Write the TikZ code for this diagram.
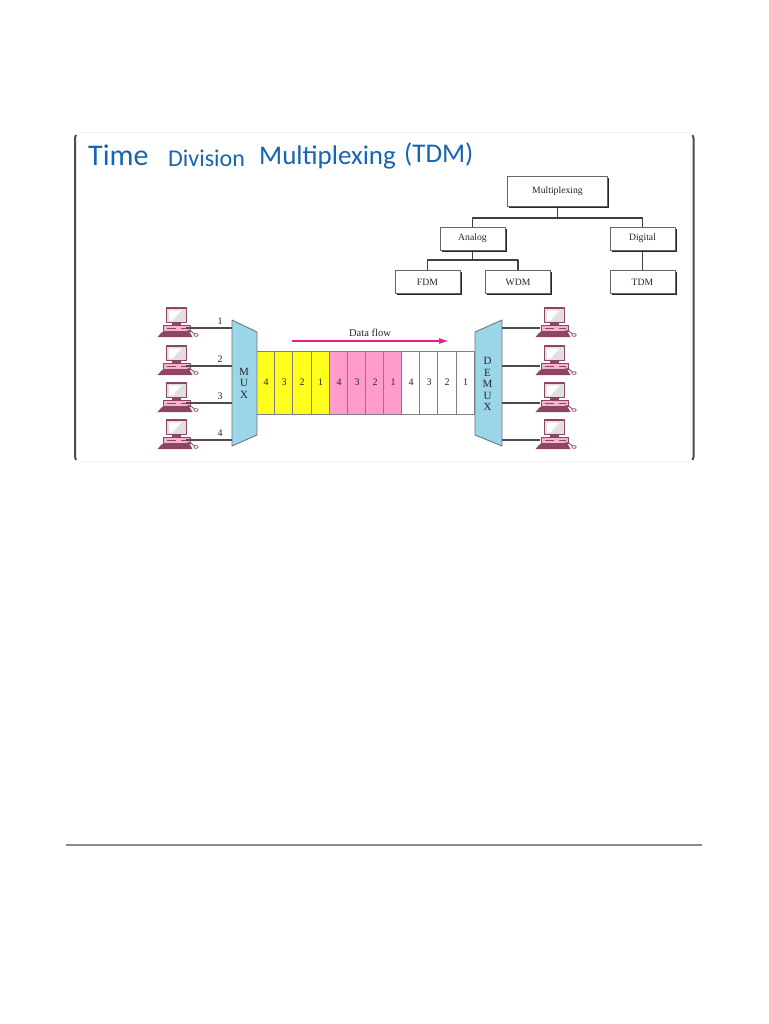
\documentclass[tikz,border=0pt]{standalone}
\usepackage{fontspec}
\setmainfont{Liberation Serif}
\newfontfamily\handfont{Carlito}
\usetikzlibrary{shadows,arrows.meta}
\definecolor{inkblue}{HTML}{1764B0}
\definecolor{muxblue}{HTML}{9AD6E8}
\definecolor{slotyellow}{HTML}{FFFF1E}
\definecolor{slotpink}{HTML}{FF9CCB}
\definecolor{pcmaroon}{HTML}{8E4464}
\definecolor{pcpink}{HTML}{F4B4D0}
\definecolor{flowpink}{HTML}{E0218A}
\tikzset{
  every path/.style={line join=round},
  treebox/.style={draw=black!60, fill=white, line width=0.9pt, minimum height=23pt, minimum width=65pt, inner sep=0pt,
    font=\fontsize{9.7}{11}\selectfont, text=black!85,
    drop shadow={shadow xshift=1.6pt, shadow yshift=-1.6pt, fill=black!85, opacity=1}},
  treeline/.style={draw=black!75, line width=1.2pt},
  muxshape/.style={draw=black!55, fill=muxblue, line width=0.9pt},
  slot/.style={draw=black!50, line width=1pt, minimum height=63pt, inner sep=0pt, font=\fontsize{10}{11}\selectfont, text=black!85},
  wire/.style={draw=black!70, line width=1.3pt},
  lbl/.style={font=\fontsize{10}{11}\selectfont, text=black!85, inner sep=0pt},
  title/.style={text=inkblue, inner sep=0pt, anchor=base west},
  computer/.pic={
    \filldraw[draw=pcmaroon, fill=black!12, line width=1.2pt] (-10,-20) rectangle (10,-5.5);
    \fill[white] (-7.5,-17.5) -- (5,-17.5) -- (-4,-7.5) -- (-7.5,-7.5) -- cycle;
    \fill[pcmaroon] (-4.5,-5) rectangle (4.5,-3);
    \filldraw[draw=pcmaroon, fill=pcpink, line width=1pt] (-13.5,-3) rectangle (13.5,3.5);
    \draw[pcmaroon, line width=1pt] (-10,0) -- (-1,0) (4,0) -- (11,0);
    \fill[pcmaroon] (-19,9) -- (16,9) -- (13,4) -- (-14.5,4) -- cycle;
    \draw[pcmaroon, line width=0.8pt] (11,2) .. controls (14,3) and (16,4) .. (18,6);
    \filldraw[draw=pcmaroon, fill=white, line width=0.7pt] (19.5,7) ellipse (2.2 and 1.4);
    \coordinate (-port) at (0,0);
  }
}
\begin{document}
\begin{tikzpicture}[x=1pt,y=-1pt]
  \useasboundingbox (0,0) rectangle (768,1024);
  % card round the slide
  \draw[black!6, line width=1pt] (80,132.5) -- (689,132.5);
  \draw[black!6, line width=1pt] (80,461) -- (689,461);
  \draw[black!70, line width=2pt] (76,135) -- (75,138) -- (75,457) -- (76,460);
  \draw[black!70, line width=2pt] (692.5,135) -- (693.5,138) -- (693.5,457) -- (692.5,460);
  % title
  \node[title, font=\handfont\fontsize{30}{32}\selectfont] (wtime) at (88,166) {Time};
  \node[title, font=\handfont\fontsize{24}{26}\selectfont] (wdiv) at (168,167) {Division};
  \node[title, font=\handfont\fontsize{27}{30}\selectfont] (wmul) at (259,165) {Multiplexing};
  \node[title, font=\handfont\fontsize{27}{30}\selectfont] (wtdm) at (404,163) {(TDM)};
  % tree
  \node[treebox, minimum width=100pt, minimum height=30pt] (mplx) at (557.5,191) {Multiplexing};
  \node[treebox] (analog) at (472.5,238.5) {Analog};
  \node[treebox] (digital) at (642.5,238.5) {Digital};
  \node[treebox] (fdm) at (427.5,282) {FDM};
  \node[treebox] (wdm) at (518,282) {WDM};
  \node[treebox] (tdm) at (642.5,282) {TDM};
  \draw[treeline] (mplx.south) -- (557.5,218) coordinate (split);
  \draw[treeline] (analog.north) |- (split) -| (digital.north);
  \draw[treeline] (analog.south) -- (472.5,260) coordinate (subsplit);
  \draw[treeline] (fdm.north) |- (subsplit) -| (wdm.north);
  \draw[treeline] (digital.south) -- (tdm.north);
  % slots
  \foreach \n/\xc/\col/\lab in {a/266/slotyellow/4, b/284/slotyellow/3, c/302/slotyellow/2, d/320.5/slotyellow/1,
                                e/339/slotpink/4, f/357/slotpink/3, g/375/slotpink/2, h/393/slotpink/1,
                                i/411/white/4, j/429/white/3, k/447/white/2, l/465.5/white/1}
    \node[slot, fill=\col, minimum width=18.4pt] (s\n) at (\xc,382.5) {\lab};
  % mux and demux
  \draw[muxshape] (232,320) -- (257,332) -- (257,435) -- (232,446) -- cycle;
  \draw[muxshape] (475,332) -- (502,320) -- (502,446) -- (475,435) -- cycle;
  \node[lbl, align=center, font=\fontsize{11}{11.5}\selectfont] (muxlbl) at (244,383) {M\\U\\X};
  \node[lbl, align=center, font=\fontsize{11}{11.5}\selectfont] (demuxlbl) at (487.5,384) {D\\E\\M\\U\\X};
  % data flow
  \coordinate (flowa) at (292,341);
  \coordinate (flowb) at (449,341);
  \draw[flowpink, line width=1.4pt, -{Latex[length=10pt,width=6pt]}] (flowa) -- (flowb);
  \node[lbl, font=\fontsize{10.5}{12}\selectfont] (flowlbl) at (370,333) {Data flow};
  % computers
  \foreach \i/\yc in {1/328, 2/366, 3/403, 4/440} {
    \pic (pcl\i) at (176.5,\yc) {computer};
    \pic (pcr\i) at (554.5,\yc) {computer};
    \coordinate (muxin\i) at (232,\yc);
    \coordinate (demuxout\i) at (502,\yc);
    \draw[wire] (pcl\i-port) ++(9,0) -- (muxin\i);
    \draw[wire] (demuxout\i) -- ++(38,0);
    \node[lbl] (n\i) at (220,\yc-7) {\i};
  }
  % rule at the foot of the page
  \coordinate (rulea) at (66,845);
  \coordinate (ruleb) at (702,845);
  \draw[black!45, line width=1.2pt] (rulea) -- (ruleb);
\end{tikzpicture}
\end{document}
